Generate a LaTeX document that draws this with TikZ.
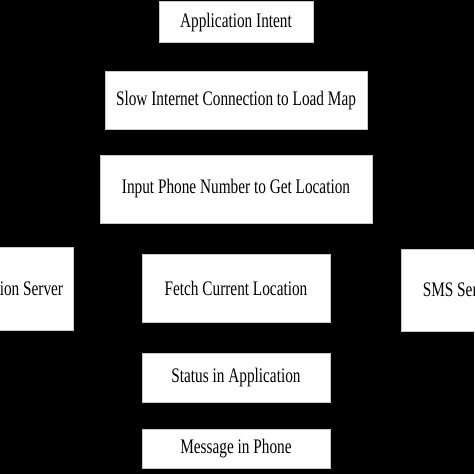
\documentclass[tikz,border=0pt]{standalone}
\usepackage{fontspec}
\setmainfont{Liberation Serif}[FakeStretch=0.74]
\tikzset{every picture/.style={line width=0.75pt}}
\tikzset{
  stepbox/.style={draw={rgb,255:red,200;green,200;blue,200}, line width=0.75pt, fill=white,
    inner sep=0pt, font=\fontsize{15.5}{18}\selectfont, text=black},
}

\begin{document}
\begin{tikzpicture}[x=0.75pt,y=0.75pt,yscale=-1,xscale=1]
\useasboundingbox (0,0) rectangle (474,474);
\clip (0,0) rectangle (474,474);
\fill [black] (0,0) rectangle (474,474);

% Top column
\node [stepbox, minimum width=154*0.75pt, minimum height=41*0.75pt] (intent) at (236,22.5) {Application Intent};
\node [stepbox, minimum width=262*0.75pt, minimum height=58*0.75pt] (slownet) at (236,101) {Slow Internet Connection to Load Map};
\node [stepbox, minimum width=272*0.75pt, minimum height=68*0.75pt] (phoneno) at (236,189) {Input Phone Number to Get Location};

% Middle row
\node [stepbox, minimum width=188*0.75pt, minimum height=68*0.75pt] (fetch) at (236,288) {Fetch Current Location};
\node [stepbox, minimum width=118*0.75pt, minimum height=83*0.75pt] (locserver) at (14,288.5) {Location Server};
\node [stepbox, minimum width=118*0.75pt, minimum height=82*0.75pt] (smsserver) at (460,290) {SMS Server};

% Bottom column
\node [stepbox, minimum width=188*0.75pt, minimum height=49*0.75pt] (status) at (236,377.5) {Status in Application};
\node [stepbox, minimum width=188*0.75pt, minimum height=39*0.75pt] (message) at (236,448.5) {Message in Phone};

\end{tikzpicture}
\end{document}
